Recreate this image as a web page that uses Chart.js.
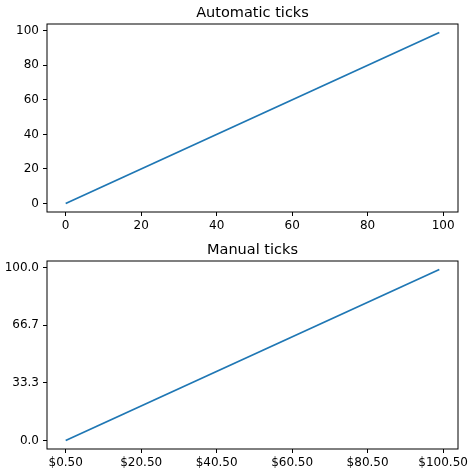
<!DOCTYPE html>
<html>
<head>
<meta charset="utf-8">
<script src="https://cdn.jsdelivr.net/npm/chart.js@4"></script>
<style>
  html, body { margin: 0; padding: 0; background: #fff; }
  .box { position: absolute; left: 0; width: 474px; height: 237px; }
  #top { top: 0; }
  #bottom { top: 237px; }
</style>
</head>
<body>
<div class="box" id="top"><canvas id="chartTop"></canvas></div>
<div class="box" id="bottom"><canvas id="chartBottom"></canvas></div>
<script>
// y = x, a straight line from the first to the last sample
const xValues = [0, 99];
const yValues = [0, 99];

const topTitle = 'Automatic ticks';
const topXTicks = [0, 20, 40, 60, 80, 100];
const topYTicks = [0, 20, 40, 60, 80, 100];

const bottomTitle = 'Manual ticks';
const bottomXTicks = [0, 20, 40, 60, 80, 100];
const bottomXLabels = ['$0.50', '$20.50', '$40.50', '$60.50', '$80.50', '$100.50'];
const bottomYTicks = [0, 33.333, 66.667, 100];
const bottomYLabels = ['0.0', '33.3', '66.7', '100.0'];

const FONT = 'DejaVu Sans';
const LINE = '#1f77b4';

// draws the four spines and the title above the plot area
const framePlugin = {
  id: 'frame',
  afterDraw(chart, args, opts) {
    const a = chart.chartArea;
    const ctx = chart.ctx;
    ctx.save();
    ctx.strokeStyle = '#000';
    ctx.lineWidth = 1;
    ctx.strokeRect(a.left, a.top, a.right - a.left, a.bottom - a.top);
    ctx.fillStyle = '#000';
    ctx.font = '14.5px "' + FONT + '"';
    ctx.textAlign = 'center';
    ctx.textBaseline = 'alphabetic';
    ctx.fillText(opts.text, (a.left + a.right) / 2, a.top - 7);
    ctx.restore();
  }
};

function makeChart(id, title, xTicks, xLabels, yTicks, yLabels) {
  const points = xValues.map((x, i) => ({ x: x, y: yValues[i] }));
  const axis = (ticks, labels, isX) => ({
    type: 'linear',
    min: -4.95,
    max: 103.95,
    afterBuildTicks: (s) => { s.ticks = ticks.map(v => ({ value: v })); },
    afterFit: (s) => {
      if (isX) s.height = 25; else s.width = 47;
    },
    grid: {
      drawOnChartArea: false,
      drawTicks: true,
      tickLength: 4,
      tickColor: '#000',
      tickWidth: 1
    },
    border: { display: false },
    ticks: {
      color: '#000',
      font: { family: FONT, size: 12 },
      padding: isX ? 3 : 4,
      maxRotation: 0,
      autoSkip: false,
      callback: (v, i) => labels ? labels[i] : String(Math.round(v))
    }
  });

  return new Chart(document.getElementById(id), {
    type: 'line',
    data: {
      datasets: [{
        data: points,
        borderColor: LINE,
        borderWidth: 1.8,
        pointRadius: 0,
        fill: false,
        tension: 0
      }]
    },
    options: {
      responsive: true,
      maintainAspectRatio: false,
      animation: false,
      layout: { padding: { left: 0, right: 16, top: 24, bottom: 0 } },
      scales: {
        x: axis(xTicks, xLabels, true),
        y: axis(yTicks, yLabels, false)
      },
      plugins: {
        legend: { display: false },
        tooltip: { enabled: false },
        frame: { text: title }
      }
    },
    plugins: [framePlugin]
  });
}

makeChart('chartTop', topTitle, topXTicks, null, topYTicks, null);
makeChart('chartBottom', bottomTitle, bottomXTicks, bottomXLabels, bottomYTicks, bottomYLabels);
</script>
</body>
</html>
